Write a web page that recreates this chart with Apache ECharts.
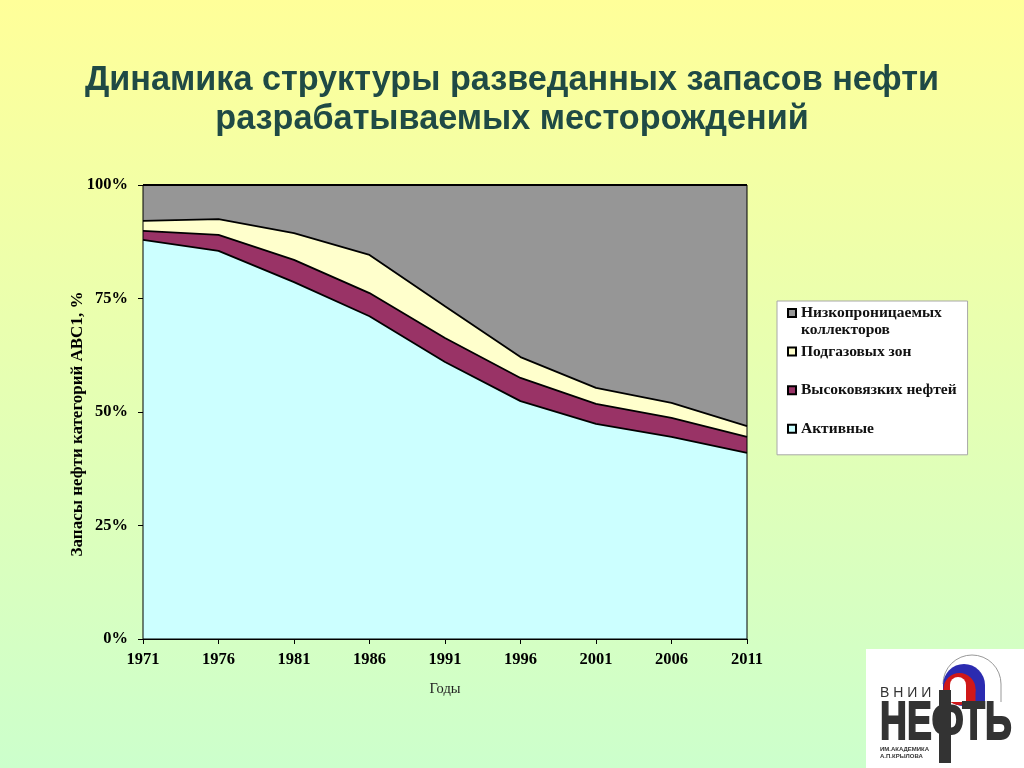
<!DOCTYPE html>
<html lang="ru">
<head>
    <meta charset="UTF-8">
    <title>Динамика структуры разведанных запасов нефти</title>
    <style>
        html, body { margin: 0; padding: 0; }
        #main { width: 1024px; height: 768px; }
    </style>
</head>
<body>
    <div id="main"></div>
    <script src="https://cdn.jsdelivr.net/npm/echarts@6/dist/echarts.min.js"></script>
    <script>
        var years = ['1971', '1976', '1981', '1986', '1991', '1996', '2001', '2006', '2011'];
        var active = [87.9, 85.5, 78.6, 71.1, 61.0, 52.4, 47.4, 44.5, 41.0];
        var viscous = [2.0, 3.5, 4.9, 5.1, 5.3, 5.1, 4.4, 4.2, 3.5];
        var gasZone = [2.2, 3.5, 5.9, 8.4, 7.0, 4.6, 3.5, 3.3, 2.4];
        var lowPerm = [7.9, 7.5, 10.6, 15.4, 26.7, 37.9, 44.7, 48.0, 53.1];
        var yTicks = [0, 25, 50, 75, 100];

        var serif = '"Liberation Serif", "Times New Roman", serif';
        var sans = '"Liberation Sans", Arial, sans-serif';
        var black = '#000';
        var logoDark = '#333';

        function areaSeries(name, values, color, z) {
            return {
                name: name,
                type: 'line',
                stack: 'total',
                data: values,
                z: z,
                symbol: 'none',
                lineStyle: { color: black, width: 1.8 },
                itemStyle: { color: color, borderColor: black, borderWidth: 1 },
                areaStyle: { color: color, opacity: 1 }
            };
        }

        // arch of the logo: half circle on top of a rect
        function arch(cx, cy, r, bottom, color, z) {
            return [
                { type: 'circle', z: z, shape: { cx: cx, cy: cy, r: r }, style: { fill: color } },
                { type: 'rect', z: z, shape: { x: cx - r, y: cy, width: 2 * r, height: bottom - cy }, style: { fill: color } }
            ];
        }

        function logoText(text, x, y, font) {
            return { type: 'text', z: 26, x: x, y: y, style: { text: text, font: font, fill: logoDark } };
        }

        var logo = [
            { type: 'rect', z: 20, shape: { x: 866, y: 649, width: 158, height: 119 }, style: { fill: '#fff' } },
            { type: 'arc', z: 21, shape: { cx: 972, cy: 684, r: 29, startAngle: Math.PI, endAngle: 2 * Math.PI }, style: { stroke: '#999', lineWidth: 1, fill: 'none' } },
            { type: 'line', z: 21, shape: { x1: 1001, y1: 684, x2: 1001, y2: 702 }, style: { stroke: '#999', lineWidth: 1 } }
        ].concat(
            arch(964, 685, 21, 702, '#2B2BB0', 22),
            arch(959.5, 689, 16, 702, '#D01818', 23),
            arch(958, 685, 8, 702, '#fff', 24),
            [
                logoText('В Н И И', 880, 686, '14px ' + sans),
                { type: 'text', z: 26, x: 880, y: 697, scaleX: 0.69, style: { text: 'НЕФТЬ', font: 'bold 54px ' + sans, fill: logoDark, stroke: logoDark, lineWidth: 2 } },
                { type: 'rect', z: 27, shape: { x: 939, y: 690, width: 12, height: 73 }, style: { fill: logoDark } },
                logoText('ИМ.АКАДЕМИКА', 880, 746, 'bold 6px ' + sans),
                logoText('А.П.КРЫЛОВА', 880, 753, 'bold 6px ' + sans)
            ]
        );

        var myChart = echarts.init(document.getElementById('main'));
        var option = {
            animation: false,
            backgroundColor: new echarts.graphic.LinearGradient(0, 0, 0, 1, [
                { offset: 0, color: '#FFFF99' },
                { offset: 1, color: '#CCFFCC' }
            ]),
            title: {
                text: 'Динамика структуры разведанных запасов нефти\nразрабатываемых месторождений',
                left: 507,
                top: 56,
                textAlign: 'center',
                textStyle: {
                    fontFamily: sans,
                    fontSize: 34.2,
                    fontWeight: 'bold',
                    lineHeight: 39,
                    color: '#1F4A45'
                }
            },
            grid: {
                left: 143, top: 185, width: 604, height: 454,
                show: true,
                backgroundColor: 'transparent',
                borderColor: black,
                borderWidth: 1,
                z: 10
            },
            legend: {
                orient: 'vertical',
                left: 777,
                top: 301,
                padding: [4, 11, 18, 10],
                backgroundColor: '#fff',
                borderColor: '#A8A8A8',
                borderWidth: 1,
                itemWidth: 8,
                itemHeight: 8,
                itemGap: 22.6,
                icon: 'rect',
                selectedMode: false,
                data: ['Низкопроницаемых коллекторов', 'Подгазовых зон', 'Высоковязких нефтей', 'Активные'],
                formatter: function (name) {
                    return name.split(' коллекторов')[0];
                },
                textStyle: {
                    fontFamily: serif,
                    fontSize: 15.5,
                    fontWeight: 'bold',
                    color: '#111'
                }
            },
            xAxis: {
                type: 'category',
                data: years,
                boundaryGap: false,
                name: 'Годы',
                nameLocation: 'middle',
                nameGap: 43,
                nameTextStyle: { fontFamily: serif, fontSize: 14.5, color: '#222' },
                axisLine: { lineStyle: { color: black, width: 1 } },
                axisTick: { show: true, length: 5, alignWithLabel: true, lineStyle: { color: black } },
                axisLabel: {
                    fontFamily: serif, fontSize: 16.5, fontWeight: 'bold', color: black, margin: 12,
                    interval: 0, showMinLabel: true, showMaxLabel: true
                },
                splitLine: { show: false }
            },
            yAxis: {
                type: 'value',
                min: yTicks[0],
                max: yTicks[yTicks.length - 1],
                interval: yTicks[1] - yTicks[0],
                name: 'Запасы нефти категорий АВС1, %',
                nameLocation: 'middle',
                nameGap: 57,
                nameMoveOverlap: false,
                nameRotate: 90,
                nameTextStyle: { fontFamily: serif, fontSize: 17, fontWeight: 'bold', color: black, padding: [0, 24, 0, 0] },
                axisLine: { show: true, lineStyle: { color: black, width: 1 } },
                axisTick: { show: true, length: 5, lineStyle: { color: black } },
                axisLabel: {
                    fontFamily: serif, fontSize: 16.5, fontWeight: 'bold', color: black, margin: 15,
                    formatter: '{value}%'
                },
                splitLine: { show: false }
            },
            series: [
                areaSeries('Активные', active, '#CCFFFF', 6),
                areaSeries('Высоковязких нефтей', viscous, '#993366', 5),
                areaSeries('Подгазовых зон', gasZone, '#FFFFCC', 4),
                areaSeries('Низкопроницаемых коллекторов', lowPerm, '#969696', 3)
            ],
            graphic: [
                // second line of the first legend entry
                { type: 'text', z: 20, x: 801, y: 322, style: { text: 'коллекторов', font: 'bold 15.5px ' + serif, fill: '#111' } }
            ].concat(logo)
        };
        myChart.setOption(option);
    </script>
</body>
</html>
